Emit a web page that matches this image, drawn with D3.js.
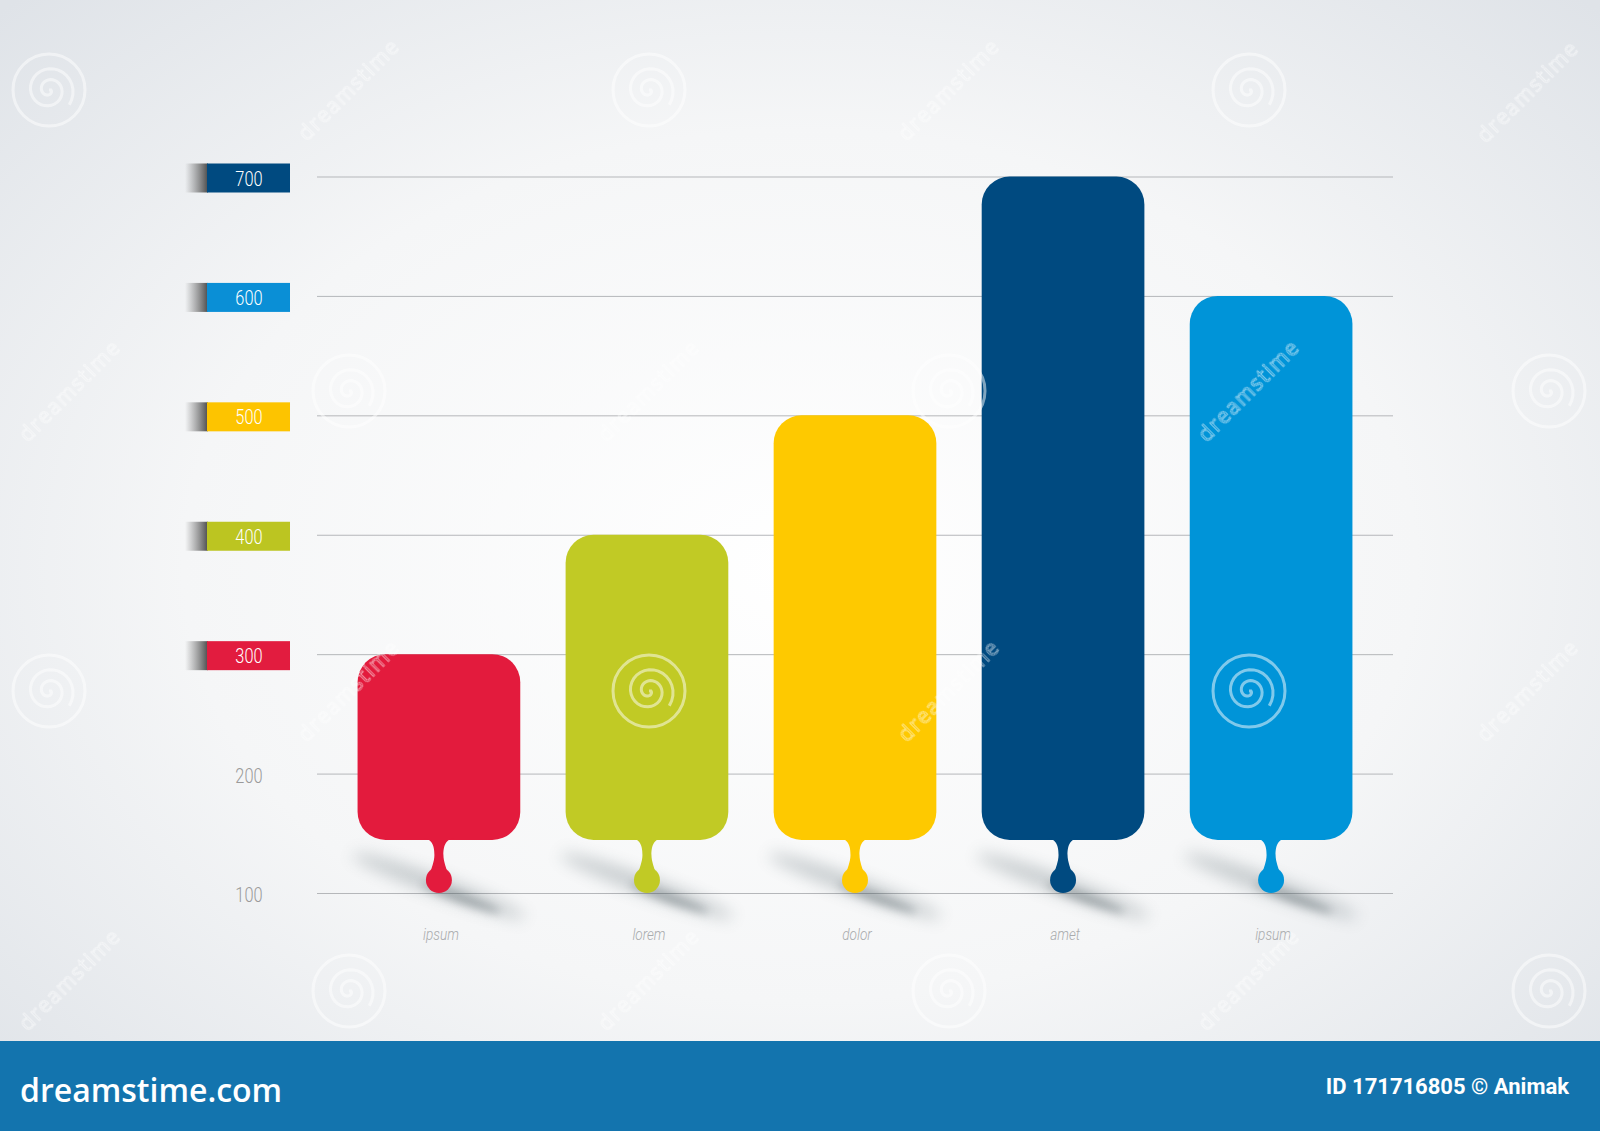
<!DOCTYPE html>
<html><head><meta charset="utf-8">
<script src="https://cdn.jsdelivr.net/npm/d3@7/dist/d3.min.js"></script>
<style>html,body{margin:0;padding:0;overflow:hidden;background:#f3f4f6}svg{display:block}</style>
</head><body><svg id="c" width="1600" height="1131"></svg>
<script>
const categories = ["ipsum", "lorem", "dolor", "amet", "ipsum"];
const values = [300, 400, 500, 700, 600];
const barColors = ["#e31b3d", "#c1ca25", "#fec900", "#004a80", "#0094d8"];
const tickValues = [100, 200, 300, 400, 500, 600, 700];
const tickLabels = ["100", "200", "300", "400", "500", "600", "700"];
const tickBoxColors = [null, null, "#e21c3f", "#bcc521", "#fdc400", "#0a8fd6", "#004a80"];
const footerLeft = "dreamstime.com";
const footerRight = "ID 171716805 \u00A9 Animak";
const watermarkText = "dreamstime";

const W = 1600, H = 1131;
const svg = d3.select("#c");
const defs = svg.append("defs");

const bg = defs.append("radialGradient").attr("id", "bg").attr("cx", "50%").attr("cy", "50%").attr("r", "70%");
bg.append("stop").attr("offset", "0%").attr("stop-color", "#ffffff");
bg.append("stop").attr("offset", "55%").attr("stop-color", "#f5f6f7");
bg.append("stop").attr("offset", "100%").attr("stop-color", "#dfe3e8");

const sg = defs.append("linearGradient").attr("id", "boxShade").attr("x1", "0").attr("x2", "1");
sg.append("stop").attr("offset", "0%").attr("stop-color", "#666").attr("stop-opacity", 0);
sg.append("stop").attr("offset", "100%").attr("stop-color", "#444").attr("stop-opacity", 0.95);

const blur = defs.append("filter").attr("id", "blur").attr("x", "-50%").attr("y", "-300%").attr("width", "200%").attr("height", "700%");
blur.append("feGaussianBlur").attr("stdDeviation", 8);
const blur2 = defs.append("filter").attr("id", "blur2").attr("x", "-50%").attr("y", "-300%").attr("width", "200%").attr("height", "700%");
blur2.append("feGaussianBlur").attr("stdDeviation", 4);

svg.append("rect").attr("width", W).attr("height", H).attr("fill", "url(#bg)");

const x = d3.scaleBand().domain(d3.range(categories.length)).range([317, 1393]).paddingInner(0.218).paddingOuter(0.195);
const y = d3.scaleLinear().domain([100, 700]).range([893, 176.5]);

// gridlines
const grid = svg.append("g").attr("transform", "translate(317,0)")
  .call(d3.axisRight(y).tickValues(tickValues).tickSize(1076).tickFormat(""));
grid.select(".domain").remove();
grid.selectAll("line").attr("stroke", "#b5b7ba").attr("stroke-width", 1);

// y labels
const lab = svg.append("g");
tickValues.forEach((t, i) => {
  const yy = y(t) + 1.5;
  const c = tickBoxColors[i];
  if (c) {
    lab.append("rect").attr("x", 185).attr("y", yy - 14.5).attr("width", 23).attr("height", 29).attr("fill", "url(#boxShade)");
    lab.append("rect").attr("x", 207).attr("y", yy - 14.5).attr("width", 83).attr("height", 29).attr("fill", c);
  }
  lab.append("text").attr("transform", `translate(249,${yy}) scale(0.78,1)`).attr("dy", "0.36em").attr("text-anchor", "middle")
    .attr("font-family", "Roboto, sans-serif").attr("font-weight", 300)
    .attr("font-size", 21).attr("fill", c ? "#ffffff" : "#9a9a9a").text(tickLabels[i]);
});

// bars
const yb = y(100) - 53;
const rr = 28;
const bars = svg.append("g");
values.forEach((v, i) => {
  const cx = x(i) + x.bandwidth() / 2;
  bars.append("ellipse").attr("cx", cx).attr("cy", 886).attr("rx", 92).attr("ry", 9)
    .attr("fill", "#4a5a60").attr("opacity", 0.28).attr("filter", "url(#blur)")
    .attr("transform", `rotate(20 ${cx} 886)`);
  bars.append("ellipse").attr("cx", cx + 22).attr("cy", 898).attr("rx", 42).attr("ry", 5)
    .attr("fill", "#3a4a50").attr("opacity", 0.32).attr("filter", "url(#blur2)")
    .attr("transform", `rotate(20 ${cx + 22} 898)`);
});
values.forEach((v, i) => {
  const x0 = x(i), bw = x.bandwidth(), cx = x0 + bw / 2;
  const g = bars.append("g").attr("fill", barColors[i]);
  g.append("rect").attr("x", x0).attr("y", y(v)).attr("width", bw).attr("height", yb - y(v)).attr("rx", rr);
  const r = 13, cy = y(100) - r;
  const p = d3.path();
  p.moveTo(cx - 18, yb - 2);
  p.bezierCurveTo(cx - 6, yb - 2, cx - 4.5, yb + 7, cx - 4.5, yb + 15);
  p.bezierCurveTo(cx - 4.5, yb + 22, cx - 8, cy - r + 2, cx - 8, cy - r + 4);
  p.lineTo(cx + 8, cy - r + 4);
  p.bezierCurveTo(cx + 8, cy - r + 2, cx + 4.5, yb + 22, cx + 4.5, yb + 15);
  p.bezierCurveTo(cx + 4.5, yb + 7, cx + 6, yb - 2, cx + 18, yb - 2);
  p.closePath();
  g.append("path").attr("d", p.toString());
  g.append("circle").attr("cx", cx).attr("cy", cy).attr("r", r);
});

// category labels
svg.append("g").selectAll("text").data(categories).join("text")
  .attr("transform", (d, i) => `translate(${x(i) + x.bandwidth() / 2 + 2},940) scale(0.85,1)`)
  .attr("text-anchor", "middle").attr("font-family", "Roboto, sans-serif").attr("font-weight", 300)
  .attr("font-style", "italic").attr("font-size", 16).attr("fill", "#a9abad").text(d => d);

// watermark
const spirals = [[49,90],[649,90],[1249,90],[349,391],[949,391],[1549,391],[49,691],[649,691],[1249,691],[349,991],[949,991],[1549,991]];
const wtexts = [[349,90],[949,90],[1528,92],[70,391],[649,391],[1249,391],[349,691],[949,691],[1528,691],[70,980],[649,980],[1249,980]];
const wm = svg.append("g").attr("fill", "none").attr("stroke", "#ffffff").attr("opacity", 0.5);
spirals.forEach(([a, b]) => {
  wm.append("circle").attr("cx", a).attr("cy", b).attr("r", 36).attr("stroke-width", 3);
  const sp = d3.path();
  sp.moveTo(a, b);
  for (let k = 0; k <= 60; k++) {
    const th = k / 60 * Math.PI * 4.2;
    const rad = 2 + th * 1.75;
    sp.lineTo(a + rad * Math.cos(th), b + rad * Math.sin(th));
  }
  wm.append("path").attr("d", sp.toString()).attr("stroke-width", 3);
});
const wt = svg.append("g").attr("opacity", 0.5);
wtexts.forEach(([a, b]) => {
  wt.append("text").attr("x", a).attr("y", b).attr("text-anchor", "middle").attr("dy", "0.35em")
    .attr("transform", `rotate(-45 ${a} ${b})`).attr("font-family", "'Open Sans', sans-serif")
    .attr("font-size", 21).attr("letter-spacing", 1.5).attr("fill", "none").attr("stroke", "#ffffff").attr("stroke-width", 1)
    .text(watermarkText);
});

// footer
svg.append("rect").attr("x", 0).attr("y", 1041).attr("width", W).attr("height", H - 1041).attr("fill", "#1374ae");
svg.append("text").attr("x", 20).attr("y", 1102).attr("font-family", "'Open Sans', sans-serif").attr("font-weight", 600)
  .attr("font-size", 32).attr("fill", "#ffffff").text(footerLeft);
svg.append("text").attr("x", 1569).attr("y", 1094).attr("text-anchor", "end").attr("font-family", "Roboto, sans-serif")
  .attr("font-weight", 700).attr("font-size", 22).attr("fill", "#ffffff").text(footerRight);
</script></body></html>
